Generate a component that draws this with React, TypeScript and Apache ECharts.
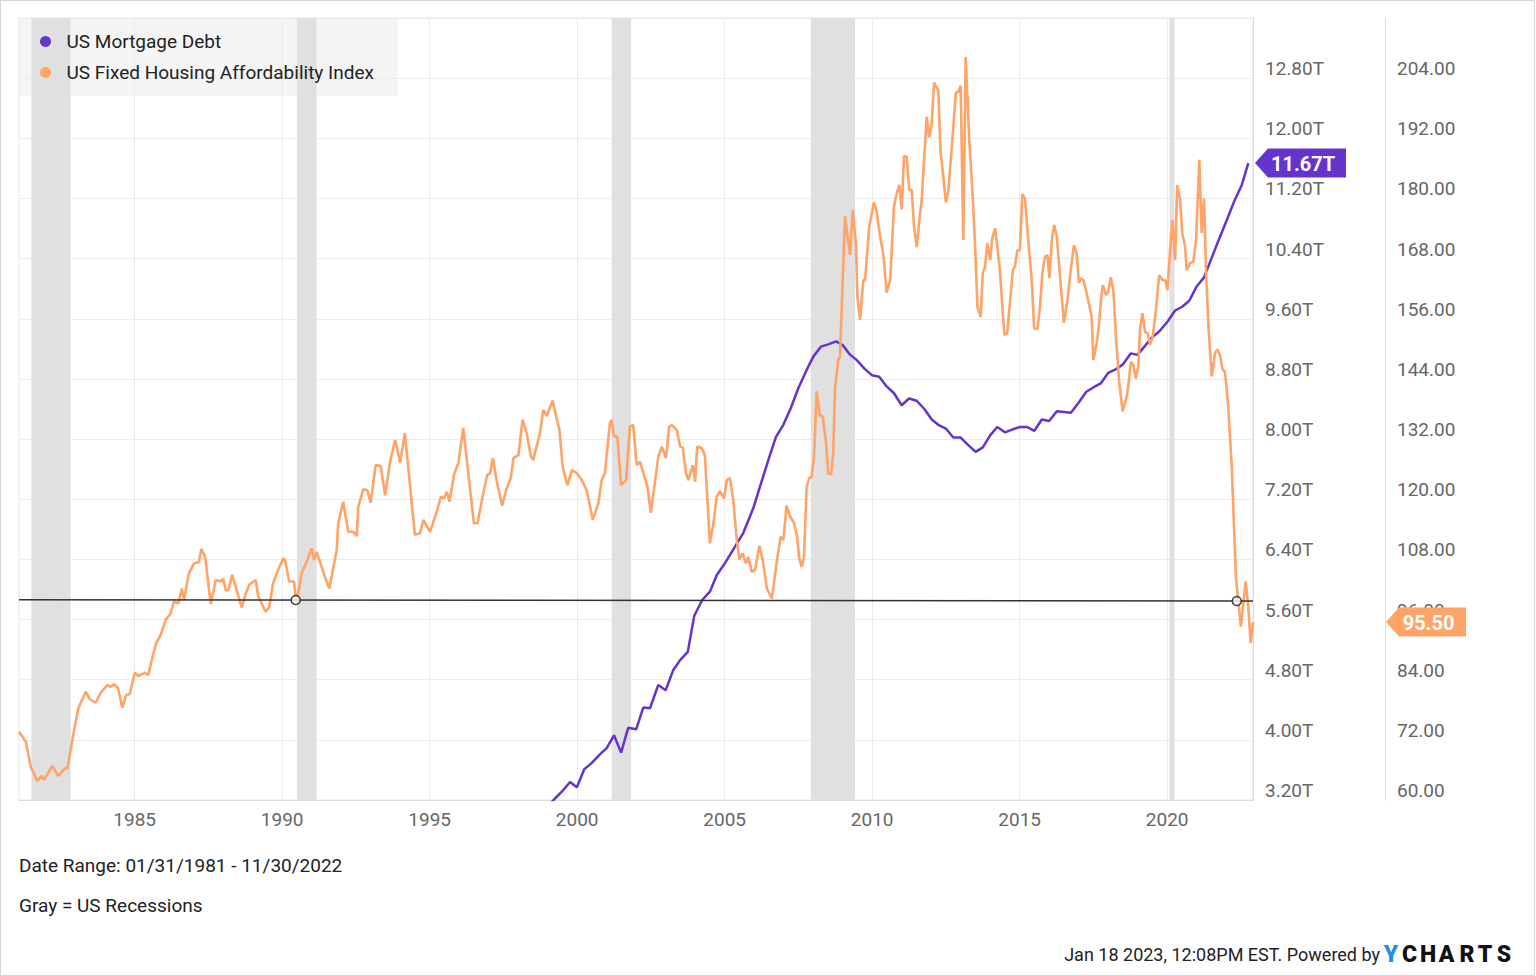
import React, { useEffect, useRef } from "react";
import * as echarts from "echarts";

const PURPLE = "#6633cc";
const ORANGE = "#ffa366";
const FONT = "Roboto, 'Noto Sans', sans-serif";

const seriesNames = ["US Mortgage Debt", "US Fixed Housing Affordability Index"];
const yearTicks = [1985, 1990, 1995, 2000, 2005, 2010, 2015, 2020];
const debtTicks = [3.2, 4.0, 4.8, 5.6, 6.4, 7.2, 8.0, 8.8, 9.6, 10.4, 11.2, 12.0, 12.8];
const indexTicks = [60, 72, 84, 96, 108, 120, 132, 144, 156, 168, 180, 192, 204];
const dateRange = [1981.08, 2022.91];
const dateRangeText = "Date Range: 01/31/1981 - 11/30/2022";
const noteText = "Gray = US Recessions";
const stampText = "Jan 18 2023, 12:08PM EST. Powered by";

const recessions: [number, number][] = [
  [1981.5, 1982.83],
  [1990.5, 1991.17],
  [2001.17, 2001.83],
  [2007.92, 2009.42],
  [2020.08, 2020.25],
];

const mortgageDebt: [number, number][] = [
  [1998.97, 3.1], [1999.25, 3.22], [1999.48, 3.31], [1999.76, 3.44], [1999.99, 3.37],
  [2000.24, 3.61], [2000.49, 3.69], [2000.78, 3.81], [2001.0, 3.89], [2001.25, 4.06],
  [2001.49, 3.83], [2001.73, 4.16], [2002.0, 4.14], [2002.24, 4.43], [2002.47, 4.42],
  [2002.75, 4.73], [2003.0, 4.66], [2003.26, 4.93], [2003.49, 5.06], [2003.75, 5.17],
  [2003.97, 5.65], [2004.24, 5.86], [2004.5, 5.97], [2004.73, 6.19], [2005.01, 6.35],
  [2005.29, 6.53], [2005.63, 6.75], [2005.97, 7.08], [2006.2, 7.37], [2006.48, 7.72],
  [2006.74, 8.03], [2006.99, 8.19], [2007.24, 8.41], [2007.5, 8.68], [2007.78, 8.92],
  [2008.01, 9.1], [2008.27, 9.23], [2008.51, 9.26], [2008.78, 9.3], [2009.0, 9.25],
  [2009.23, 9.13], [2009.48, 9.05], [2009.73, 8.94], [2009.99, 8.85], [2010.24, 8.83],
  [2010.49, 8.7], [2010.74, 8.61], [2011.0, 8.45], [2011.25, 8.54], [2011.51, 8.51],
  [2011.77, 8.4], [2012.02, 8.26], [2012.24, 8.19], [2012.5, 8.14], [2012.75, 8.02],
  [2013.0, 8.02], [2013.26, 7.92], [2013.51, 7.83], [2013.75, 7.89], [2014.0, 8.05],
  [2014.24, 8.16], [2014.5, 8.09], [2014.77, 8.13], [2015.01, 8.16], [2015.26, 8.16],
  [2015.5, 8.11], [2015.75, 8.26], [2016.0, 8.24], [2016.26, 8.37], [2016.5, 8.36],
  [2016.74, 8.35], [2016.99, 8.48], [2017.26, 8.63], [2017.51, 8.69], [2017.75, 8.74],
  [2018.0, 8.88], [2018.27, 8.93], [2018.49, 8.99], [2018.77, 9.14], [2018.99, 9.12],
  [2019.25, 9.24], [2019.48, 9.35], [2019.73, 9.43], [2020.01, 9.56], [2020.27, 9.71],
  [2020.51, 9.76], [2020.75, 9.84], [2021.0, 10.03], [2021.25, 10.15], [2021.49, 10.39],
  [2021.73, 10.63], [2022.02, 10.91], [2022.27, 11.16], [2022.53, 11.38], [2022.75, 11.67],
];

const affordability: [number, number][] = [
  [1981.08, 73.6], [1981.31, 71.6], [1981.48, 66.6], [1981.7, 63.8], [1981.85, 64.8],
  [1981.93, 64.0], [1982.21, 66.8], [1982.41, 64.8], [1982.64, 66.3], [1982.72, 66.3],
  [1982.89, 72.0], [1983.09, 78.3], [1983.34, 81.6], [1983.48, 80.1], [1983.68, 79.4],
  [1983.85, 81.4], [1984.07, 82.9], [1984.19, 82.6], [1984.3, 83.1], [1984.44, 82.3],
  [1984.58, 78.4], [1984.72, 81.0], [1984.83, 81.1], [1985.01, 85.4], [1985.12, 84.7],
  [1985.35, 85.4], [1985.46, 84.9], [1985.58, 87.9], [1985.73, 91.3], [1985.88, 92.9],
  [1986.05, 95.9], [1986.22, 97.2], [1986.33, 99.6], [1986.48, 99.2], [1986.6, 102.2],
  [1986.67, 99.9], [1986.84, 105.2], [1987.01, 107.2], [1987.18, 107.5], [1987.26, 110.1],
  [1987.39, 108.5], [1987.58, 99.1], [1987.75, 103.9], [1987.92, 103.6], [1988.0, 104.2],
  [1988.09, 101.8], [1988.18, 101.9], [1988.31, 104.9], [1988.63, 98.4], [1988.77, 101.2],
  [1988.88, 102.9], [1989.1, 103.9], [1989.19, 100.6], [1989.44, 97.6], [1989.56, 98.4],
  [1989.69, 103.2], [1989.87, 106.0], [1990.04, 108.2], [1990.1, 107.9], [1990.24, 103.6],
  [1990.4, 103.6], [1990.49, 99.2], [1990.66, 105.3], [1990.81, 107.2], [1991.0, 110.2],
  [1991.08, 107.9], [1991.17, 109.5], [1991.45, 104.5], [1991.6, 102.2], [1991.85, 109.9],
  [1991.9, 115.2], [1992.07, 119.5], [1992.24, 113.5], [1992.41, 113.5], [1992.53, 112.7],
  [1992.58, 118.5], [1992.75, 122.0], [1992.89, 121.8], [1993.0, 119.3], [1993.17, 126.8],
  [1993.34, 126.6], [1993.49, 120.8], [1993.66, 127.5], [1993.83, 131.8], [1994.0, 127.3],
  [1994.16, 133.2], [1994.5, 112.9], [1994.67, 113.2], [1994.79, 115.9], [1995.01, 113.5],
  [1995.24, 117.5], [1995.38, 120.5], [1995.49, 120.2], [1995.58, 121.5], [1995.67, 119.5],
  [1995.83, 125.0], [1995.97, 127.2], [1996.14, 134.2], [1996.5, 115.2], [1996.62, 115.2],
  [1996.82, 121.2], [1996.95, 124.8], [1997.05, 125.2], [1997.14, 128.2], [1997.27, 123.8],
  [1997.46, 118.7], [1997.59, 121.8], [1997.75, 124.2], [1997.84, 128.2], [1998.01, 128.8],
  [1998.15, 135.9], [1998.29, 133.2], [1998.43, 128.5], [1998.51, 127.8], [1998.74, 133.2],
  [1998.85, 137.8], [1998.97, 136.6], [1999.17, 139.7], [1999.31, 136.0], [1999.4, 133.8],
  [1999.51, 126.5], [1999.67, 122.8], [1999.82, 125.8], [1999.99, 125.2], [2000.16, 123.8],
  [2000.32, 121.8], [2000.53, 115.9], [2000.72, 119.2], [2000.83, 123.8], [2000.94, 125.2],
  [2001.11, 135.2], [2001.17, 135.8], [2001.25, 132.5], [2001.36, 132.5], [2001.49, 122.8],
  [2001.66, 123.8], [2001.79, 134.5], [2001.9, 134.8], [2002.02, 126.8], [2002.13, 127.5],
  [2002.38, 122.5], [2002.5, 117.3], [2002.75, 128.5], [2002.87, 130.5], [2003.01, 128.2],
  [2003.12, 134.5], [2003.21, 134.8], [2003.38, 133.8], [2003.49, 130.5], [2003.58, 130.3],
  [2003.69, 125.2], [2003.77, 123.8], [2003.92, 126.8], [2004.0, 123.5], [2004.07, 130.5],
  [2004.22, 130.2], [2004.33, 128.8], [2004.5, 111.2], [2004.62, 115.2], [2004.73, 120.5],
  [2004.84, 121.6], [2004.98, 120.2], [2005.07, 123.8], [2005.18, 124.2], [2005.29, 119.9],
  [2005.41, 111.9], [2005.5, 108.0], [2005.61, 109.2], [2005.72, 107.2], [2005.8, 108.5],
  [2005.92, 105.5], [2006.03, 105.9], [2006.18, 110.7], [2006.29, 107.9], [2006.43, 102.2],
  [2006.6, 100.2], [2006.79, 108.5], [2006.9, 112.5], [2006.99, 111.9], [2007.1, 118.7],
  [2007.22, 116.5], [2007.35, 115.3], [2007.46, 112.5], [2007.53, 108.2], [2007.61, 106.5],
  [2007.69, 108.5], [2007.78, 122.5], [2007.87, 124.2], [2007.95, 124.5], [2008.03, 128.5],
  [2008.12, 141.5], [2008.23, 136.8], [2008.32, 136.5], [2008.44, 131.2], [2008.51, 125.2],
  [2008.61, 124.9], [2008.68, 129.2], [2008.74, 142.0], [2008.85, 147.8], [2008.91, 148.4],
  [2009.08, 176.4], [2009.25, 168.7], [2009.34, 177.7], [2009.45, 171.1], [2009.5, 160.4],
  [2009.59, 155.8], [2009.7, 163.7], [2009.76, 163.7], [2009.9, 174.4], [2010.06, 179.2],
  [2010.15, 177.4], [2010.27, 172.4], [2010.36, 169.4], [2010.4, 167.7], [2010.49, 161.2],
  [2010.61, 163.7], [2010.74, 178.4], [2010.83, 180.9], [2010.92, 182.7], [2011.0, 177.8],
  [2011.08, 188.5], [2011.17, 188.3], [2011.26, 181.7], [2011.34, 181.7], [2011.42, 174.4],
  [2011.51, 170.3], [2011.6, 175.7], [2011.68, 179.7], [2011.76, 187.7], [2011.85, 196.3],
  [2011.93, 192.2], [2012.02, 195.0], [2012.1, 203.1], [2012.24, 201.6], [2012.32, 189.3],
  [2012.41, 184.4], [2012.5, 179.2], [2012.58, 181.4], [2012.7, 190.3], [2012.84, 201.1],
  [2012.92, 201.3], [2013.0, 202.5], [2013.09, 171.7], [2013.17, 208.2], [2013.29, 191.7],
  [2013.41, 180.4], [2013.49, 170.4], [2013.57, 158.4], [2013.68, 156.4], [2013.75, 165.1],
  [2013.83, 166.4], [2013.9, 171.1], [2014.0, 167.7], [2014.07, 172.1], [2014.17, 174.1],
  [2014.33, 165.7], [2014.48, 152.8], [2014.58, 153.2], [2014.67, 159.1], [2014.77, 165.7],
  [2014.84, 166.4], [2014.92, 169.6], [2015.01, 169.7], [2015.09, 180.9], [2015.18, 180.0],
  [2015.29, 171.7], [2015.41, 163.7], [2015.49, 154.1], [2015.6, 153.9], [2015.69, 158.4],
  [2015.77, 165.1], [2015.86, 168.4], [2015.94, 168.7], [2016.01, 164.1], [2016.09, 171.7],
  [2016.17, 174.7], [2016.26, 172.4], [2016.37, 164.4], [2016.5, 155.2], [2016.62, 159.8],
  [2016.73, 165.7], [2016.84, 170.7], [2016.93, 169.1], [2017.01, 163.1], [2017.07, 164.1],
  [2017.16, 163.7], [2017.27, 161.1], [2017.44, 156.4], [2017.5, 147.8], [2017.61, 151.1],
  [2017.67, 153.8], [2017.78, 161.1], [2017.82, 162.7], [2017.93, 160.7], [2018.0, 161.4],
  [2018.09, 164.3], [2018.18, 161.4], [2018.27, 151.8], [2018.38, 143.1], [2018.49, 137.5],
  [2018.63, 140.5], [2018.68, 142.4], [2018.77, 147.4], [2018.85, 146.8], [2018.94, 144.1],
  [2019.02, 146.5], [2019.08, 153.8], [2019.16, 157.1], [2019.25, 153.4], [2019.34, 153.1],
  [2019.42, 150.8], [2019.51, 152.4], [2019.62, 157.7], [2019.73, 164.7], [2019.85, 163.7],
  [2019.94, 163.7], [2020.01, 161.7], [2020.1, 169.7], [2020.18, 175.7], [2020.27, 167.7],
  [2020.34, 182.7], [2020.44, 179.7], [2020.51, 173.1], [2020.61, 170.4], [2020.66, 165.7],
  [2020.78, 167.1], [2020.89, 167.4], [2020.98, 171.7], [2021.09, 187.7], [2021.17, 173.1],
  [2021.25, 180.0], [2021.32, 165.1], [2021.4, 154.4], [2021.51, 144.5], [2021.62, 149.1],
  [2021.7, 149.9], [2021.79, 148.8], [2021.88, 145.9], [2021.96, 145.4], [2022.07, 138.5],
  [2022.19, 126.5], [2022.33, 104.5], [2022.5, 94.6], [2022.66, 103.6], [2022.75, 98.6],
  [2022.83, 91.3], [2022.91, 95.5],
];

const trendAnchors: [number, number][] = [
  [1990.46, 99.9],
  [2022.36, 99.7],
];

const logoLetters = ["Y", "C", "H", "A", "R", "T", "S"];

export default function App() {
  const ref = useRef<HTMLDivElement>(null);

  useEffect(() => {
    const el = ref.current;
    if (!el) return;
    const chart = echarts.init(el, null, { renderer: "svg", width: 1536, height: 976 });

    const W = 1536;
    const grid = { left: 19, right: 283, top: 18, bottom: 176 };
    const plotRight = W - grid.right;
    const axis2Offset = 132;

    const debtStep = debtTicks[1] - debtTicks[0];
    const idxStep = indexTicks[1] - indexTicks[0];

    const [xMin, xMax] = dateRange;
    const [[ax1, ay1], [ax2, ay2]] = trendAnchors;
    const slope = (ay2 - ay1) / (ax2 - ax1);
    const trendLine = [
      [xMin, ay1 + slope * (xMin - ax1)],
      [xMax, ay1 + slope * (xMax - ax1)],
    ];

    const axisLabelBase = {
      color: "#666",
      fontSize: 19,
      fontFamily: FONT,
    };

    chart.setOption({
      animation: false,
      backgroundColor: "#ffffff",
      grid: {
        ...grid,
        show: true,
        borderColor: "#e4e4e4",
        borderWidth: 1,
        backgroundColor: "transparent",
      },
      legend: {
        data: seriesNames,
        orient: "vertical",
        left: 19,
        top: 19,
        padding: [13, 23, 14, 21],
        itemGap: 12,
        itemWidth: 32,
        itemHeight: 11,
        icon: "circle",
        textStyle: { color: "#222", fontSize: 19, fontFamily: FONT },
        selectedMode: false,
      },
      xAxis: {
        type: "value",
        min: xMin,
        max: xMax,
        axisLine: { show: true, lineStyle: { color: "#dcdcdc" } },
        axisTick: { show: false, customValues: yearTicks },
        axisLabel: {
          ...axisLabelBase,
          customValues: yearTicks,
          margin: 10,
          formatter: (v: number) => String(Math.round(v)),
        },
        splitLine: { show: true, lineStyle: { color: "#ececec", width: 1 } },
      },
      yAxis: [
        {
          type: "value",
          position: "right",
          min: debtTicks[0],
          max: debtTicks[debtTicks.length - 1] + debtStep,
          interval: debtStep,
          axisLine: { show: true, lineStyle: { color: "#dcdcdc" } },
          axisTick: { show: false },
          axisLabel: {
            ...axisLabelBase,
            margin: 12,
            verticalAlign: "bottom",
            showMaxLabel: false,
            formatter: (v: number) => v.toFixed(2) + "T",
          },
          splitLine: { show: true, lineStyle: { color: "#ececec", width: 1 } },
        },
        {
          type: "value",
          position: "right",
          offset: axis2Offset,
          min: indexTicks[0],
          max: indexTicks[indexTicks.length - 1] + idxStep,
          interval: idxStep,
          axisLine: { show: true, lineStyle: { color: "#dcdcdc" } },
          axisTick: { show: false },
          axisLabel: {
            ...axisLabelBase,
            margin: 12,
            verticalAlign: "bottom",
            showMaxLabel: false,
            formatter: (v: number) => v.toFixed(2),
          },
          splitLine: { show: false },
        },
      ],
      series: [
        {
          name: seriesNames[0],
          type: "line",
          yAxisIndex: 0,
          data: mortgageDebt,
          showSymbol: false,
          symbol: "circle",
          clip: true,
          z: 3,
          lineStyle: { color: PURPLE, width: 2.5 },
          itemStyle: { color: PURPLE },
          markArea: {
            silent: true,
            z: 1,
            itemStyle: { color: "#e0e0e0", opacity: 1 },
            data: recessions.map(([a, b]) => [{ xAxis: a }, { xAxis: b }]),
          },
        },
        {
          name: seriesNames[1],
          type: "line",
          yAxisIndex: 1,
          data: affordability,
          showSymbol: false,
          symbol: "circle",
          clip: true,
          z: 4,
          lineStyle: { color: ORANGE, width: 2.6 },
          itemStyle: { color: ORANGE },
        },
        {
          name: "trend",
          type: "line",
          yAxisIndex: 1,
          data: trendLine,
          showSymbol: false,
          silent: true,
          z: 5,
          lineStyle: { color: "#333", width: 1.5 },
        },
        {
          name: "anchors",
          type: "scatter",
          yAxisIndex: 1,
          data: trendAnchors,
          symbol: "circle",
          symbolSize: 9,
          silent: true,
          z: 6,
          itemStyle: { color: "#ffffff", borderColor: "#111", borderWidth: 1.5 },
        },
      ],
    });

    const lastDebt = mortgageDebt[mortgageDebt.length - 1][1];
    const lastIdx = affordability[affordability.length - 1][1];
    const yD = chart.convertToPixel({ yAxisIndex: 0 }, lastDebt) as number;
    const yI = chart.convertToPixel({ yAxisIndex: 1 }, lastIdx) as number;

    const tag = (tipX: number, y: number, bodyW: number, color: string, text: string) => {
      const h = 29;
      const bodyX = tipX + 13;
      return [
        {
          type: "polygon",
          z: 100,
          silent: true,
          shape: {
            points: [
              [tipX, y],
              [bodyX, y - h / 2],
              [bodyX + bodyW, y - h / 2],
              [bodyX + bodyW, y + h / 2],
              [bodyX, y + h / 2],
            ],
          },
          style: { fill: color },
        },
        {
          type: "text",
          z: 101,
          silent: true,
          x: bodyX + bodyW / 2 - 4,
          y: y + 1,
          style: {
            text,
            fill: "#fff",
            fontSize: 20,
            fontWeight: "bold",
            fontFamily: FONT,
            align: "center",
            verticalAlign: "middle",
          },
        },
      ];
    };

    const footer = (text: string, x: number, y: number, align: string, size: number) => ({
      type: "text",
      x,
      y,
      silent: true,
      style: {
        text,
        fill: "#222",
        fontSize: size,
        fontFamily: FONT,
        align,
        verticalAlign: "middle",
      },
    });

    const logoX = [1391, 1409.5, 1428, 1446.5, 1467, 1485, 1504];

    chart.setOption({
      graphic: {
        elements: [
          {
            type: "rect",
            z: -1,
            silent: true,
            shape: { x: 19, y: 19, width: 379, height: 77 },
            style: { fill: "#f5f5f5" },
          },
          ...tag(plotRight + 2, yD, 78, PURPLE, lastDebt.toFixed(2) + "T"),
          ...tag(plotRight + axis2Offset + 1, yI, 67, ORANGE, lastIdx.toFixed(2)),
          footer(dateRangeText, 19, 865, "left", 19),
          footer(noteText, 19, 905, "left", 19),
          footer(stampText, 1380, 954, "right", 18),
          ...logoLetters.map((ch, i) => ({
            type: "text",
            x: logoX[i],
            y: 954,
            silent: true,
            style: {
              text: ch,
              fill: i === 0 ? "#1e90e6" : "#111",
              fontSize: 23,
              fontWeight: 900,
              fontFamily: FONT,
              align: "center",
              verticalAlign: "middle",
            },
          })),
        ],
      },
    });

    return () => {
      chart.dispose();
    };
  }, []);

  return (
    <div style={{ position: "fixed", left: 0, top: 0, width: 1536, height: 976, background: "#fff" }}>
      <div ref={ref} style={{ width: 1536, height: 976 }} />
      <div
        style={{
          position: "absolute",
          left: 0,
          top: 0,
          width: 1533,
          height: 974,
          border: "1px solid #d6d6d6",
          pointerEvents: "none",
        }}
      />
    </div>
  );
}
